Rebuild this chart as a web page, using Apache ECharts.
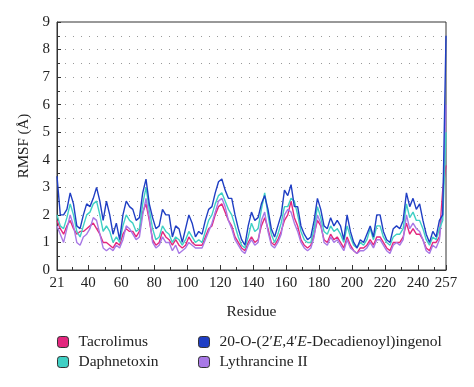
<!DOCTYPE html>
<html>
<head>
<meta charset="utf-8">
<script src="https://cdn.jsdelivr.net/npm/echarts@6/dist/echarts.min.js"></script>
<style>html,body{margin:0;padding:0;background:#fff;}#c{width:474px;height:387px;}</style>
</head>
<body>
<div id="c"></div>
<script>
// residues sampled every 2 from 21 to 257
const residues = [];
for (let r = 21; r <= 257; r += 2) residues.push(r);

const xTickLabels = [21, 40, 60, 80, 100, 120, 140, 160, 180, 200, 220, 240, 257];
const xMinorTicks = [30, 50, 70, 90, 110, 130, 150, 170, 190, 210, 230, 250];

const decadienoyl = [3.4,2.0,2.0,2.2,2.8,2.4,1.6,1.5,2.0,2.4,2.3,2.6,3.0,2.5,1.8,2.5,2.0,1.3,1.7,1.1,
2.0,2.5,2.3,2.2,1.8,1.9,2.8,3.3,2.4,1.9,1.5,1.6,2.2,2.0,2.0,1.2,1.6,1.5,1.0,1.5,
2.0,1.7,1.2,1.4,1.3,1.8,2.2,2.3,2.8,3.2,3.3,2.9,2.6,2.6,2.0,1.5,1.1,0.9,1.6,2.1,
1.8,1.9,2.4,2.7,2.2,1.5,1.2,1.6,2.0,2.9,2.7,3.1,2.3,2.3,1.6,1.3,1.1,1.2,1.8,2.6,
2.2,1.6,1.5,1.9,1.6,1.8,1.6,1.1,2.0,1.4,1.0,0.8,1.1,1.0,1.3,1.6,1.2,2.0,2.0,1.4,
1.1,1.0,1.5,1.6,1.5,1.8,2.8,2.3,2.6,2.2,2.4,1.8,1.3,1.0,1.4,1.2,1.8,2.0,8.5];

const daphnetoxin = [2.0,1.6,1.5,1.9,2.4,2.0,1.4,1.2,1.6,2.0,2.1,2.4,2.5,2.0,1.4,1.6,1.4,1.0,1.2,1.0,
1.6,2.0,1.8,1.7,1.4,1.5,2.4,3.0,2.2,1.5,1.1,1.2,1.6,1.4,1.3,1.0,1.2,1.1,0.9,1.1,
1.4,1.2,1.0,1.1,1.0,1.4,1.8,2.0,2.4,2.7,2.8,2.5,2.2,2.0,1.6,1.2,0.9,0.8,1.2,1.7,
1.4,1.5,2.2,2.8,2.0,1.3,1.0,1.3,1.7,2.3,2.3,2.6,2.5,2.0,1.4,1.1,1.0,1.0,1.5,2.3,
1.9,1.4,1.3,1.6,1.4,1.5,1.3,1.0,1.6,1.2,0.9,0.8,1.0,0.9,1.1,1.5,1.1,1.6,1.6,1.2,
1.0,0.9,1.2,1.3,1.3,1.5,2.4,1.9,2.1,1.8,1.8,1.5,1.1,0.9,1.2,1.1,1.5,1.8,5.0];

const tacrolimus = [1.8,1.5,1.3,1.6,1.8,1.5,1.3,1.4,1.4,1.5,1.6,1.7,1.5,1.3,1.0,1.0,0.9,0.8,1.0,0.9,
1.3,1.5,1.4,1.4,1.2,1.4,2.1,2.4,1.8,1.1,0.9,1.0,1.4,1.2,1.1,0.9,1.1,0.9,0.8,0.9,
1.2,1.0,0.9,0.9,0.9,1.2,1.5,1.6,2.0,2.3,2.4,2.1,1.8,1.6,1.2,1.0,0.8,0.7,1.0,1.2,
1.0,1.1,1.6,1.9,1.5,1.0,0.9,1.1,1.4,1.8,2.0,2.5,1.9,1.6,1.1,0.9,0.8,0.9,1.3,1.8,
1.6,1.1,1.0,1.3,1.1,1.2,1.0,0.8,1.2,0.9,0.7,0.6,0.8,0.8,0.9,1.1,0.9,1.2,1.2,1.0,
0.8,0.7,1.0,1.0,1.0,1.2,1.7,1.3,1.5,1.3,1.3,1.1,0.8,0.7,1.0,1.0,1.2,2.9,3.8];

const lythrancine = [1.6,1.3,1.0,1.5,2.0,1.6,1.0,0.9,1.2,1.3,1.5,1.9,1.8,1.3,0.8,0.7,0.8,0.7,0.9,0.8,
1.1,1.6,1.5,1.3,1.1,1.2,2.0,2.6,1.9,1.0,0.8,0.9,1.2,1.0,1.0,0.7,0.9,0.6,0.7,0.8,
1.0,0.9,0.8,0.8,0.8,1.1,1.4,1.7,2.1,2.5,2.6,2.3,1.8,1.5,1.1,0.9,0.7,0.6,0.9,1.1,
0.9,1.0,1.8,2.1,1.4,0.9,0.8,1.0,1.3,2.0,2.2,2.1,1.7,1.4,1.0,0.8,0.7,0.8,1.2,2.0,
1.7,1.0,0.9,1.2,1.0,1.1,0.9,0.7,1.1,0.8,0.7,0.6,0.7,0.7,0.8,1.0,0.8,1.1,1.1,0.9,
0.7,0.6,0.9,1.0,0.9,1.1,2.0,1.5,1.7,1.5,1.4,1.1,0.7,0.6,0.9,0.8,1.1,2.3,6.0];

const seriesNames = ['Tacrolimus', 'Daphnetoxin', '20-O-(2′E,4′E-Decadienoyl)ingenol', 'Lythrancine II'];
const colors = {'Tacrolimus':'#e3277e','Daphnetoxin':'#3fd0c4','20-O-(2′E,4′E-Decadienoyl)ingenol':'#1f3ec4','Lythrancine II':'#a878e6'};
const values = {'Tacrolimus':tacrolimus,'Daphnetoxin':daphnetoxin,'20-O-(2′E,4′E-Decadienoyl)ingenol':decadienoyl,'Lythrancine II':lythrancine};

const font = 'Liberation Serif';
function pairs(arr){ return residues.map((r,i)=>[r, arr[i]]).filter(p=>p[1]!==undefined); }

const drawOrder = ['Tacrolimus','Lythrancine II','Daphnetoxin','20-O-(2′E,4′E-Decadienoyl)ingenol'];
const series = drawOrder.map(n => ({
  name: n, type: 'line', data: pairs(values[n]), showSymbol: false, symbol: 'none',
  lineStyle: { width: 1.4, color: colors[n] }, itemStyle: { color: colors[n] }, animation: false
}));

const legendCommon = {
  orient: 'vertical', icon: 'roundRect', itemWidth: 11, itemHeight: 11, itemGap: 4, padding: 0,
  textStyle: { fontFamily: font, fontSize: 15.5, color: '#222', padding: [0, 0, 0, 5],
    rich: { i: { fontFamily: font, fontSize: 15.5, fontStyle: 'italic', color: '#222' } } },
  formatter: function(n){ return n.replace(/E,4′E/, '{i|E},4′{i|E}'); },
  itemStyle: { borderColor: '#333', borderWidth: 1 },
  selectedMode: false
};

const chart = echarts.init(document.getElementById('c'), null, { renderer: 'canvas' });
chart.setOption({
  backgroundColor: '#fff',
  animation: false,
  grid: { left: 57, right: 28, top: 22, bottom: 117, show: true, borderColor: '#333', borderWidth: 1, backgroundColor: 'transparent' },
  legend: [
    Object.assign({}, legendCommon, { data: ['Tacrolimus','Daphnetoxin'], left: 57, top: 334 }),
    Object.assign({}, legendCommon, { data: ['20-O-(2′E,4′E-Decadienoyl)ingenol','Lythrancine II'], left: 198, top: 334 })
  ],
  xAxis: [{
    type: 'value', min: 21, max: 257,
    name: 'Residue', nameLocation: 'middle', nameGap: 34,
    nameTextStyle: { fontFamily: font, fontSize: 15.5, color: '#222' },
    axisLine: { show: true, lineStyle: { color: '#333', width: 1 } },
    axisTick: { show: true, inside: true, length: 5, customValues: xTickLabels, lineStyle: { color: '#333' } },
    axisLabel: { customValues: xTickLabels, fontFamily: font, fontSize: 15, color: '#222', margin: 6, showMinLabel: true, showMaxLabel: true },
    splitLine: { show: false }
  }, {
    type: 'value', min: 21, max: 257, position: 'bottom',
    axisLine: { show: false },
    axisTick: { show: true, inside: true, length: 3, customValues: xMinorTicks, lineStyle: { color: '#333' } },
    axisLabel: { show: false },
    splitLine: { show: false }
  }],
  yAxis: {
    type: 'value', min: 0, max: 9, interval: 1,
    name: 'RMSF (Å)', nameLocation: 'middle', nameGap: 25,
    nameTextStyle: { fontFamily: font, fontSize: 15, color: '#222' },
    axisLine: { show: true, lineStyle: { color: '#333', width: 1 } },
    axisTick: { show: true, inside: true, length: 4, lineStyle: { color: '#333' } },
    minorTick: { show: true, splitNumber: 2, length: 3, lineStyle: { color: '#333' } },
    axisLabel: { fontFamily: font, fontSize: 15, color: '#222', margin: 7 },
    splitLine: { show: true, lineStyle: { color: '#999', type: [1, 7], width: 1 } },
    minorSplitLine: { show: true, lineStyle: { color: '#999', type: [1, 7], width: 1 } }
  },
  series: series
});
</script>
</body>
</html>
